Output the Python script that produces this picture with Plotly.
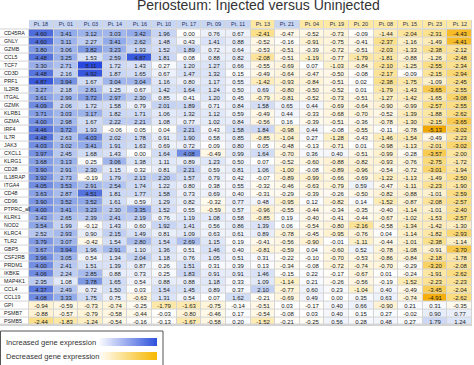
import plotly.graph_objects as go

patients = ["Pt. 18", "Pt. 01", "Pt. 03", "Pt. 14", "Pt. 16", "Pt. 10", "Pt. 17", "Pt. 09", "Pt. 11",
            "Pt. 13", "Pt. 21", "Pt. 04", "Pt. 19", "Pt. 20", "Pt. 08", "Pt. 15", "Pt. 23", "Pt. 12"]
header_group = [1, 1, 1, 1, 1, 1, 1, 1, 1, -1, 1, -1, -1, -1, -1, -1, -1, -1]

genes = ["CD45RA", "GNLY", "GZMB", "CCL5", "TCF7", "CD3D", "PRF1", "IL2RB", "ITGAL", "GZMK", "KLRB1",
         "GZMA", "IRF4", "IL7R", "JAK3", "CXCL1", "KLRG1", "CD28", "IL18RAP", "ITGA4", "CD48", "CD96",
         "PTPRC_all", "KLRK1", "NOD2", "KLRC4", "TLR2", "GBP5", "CSF2RB", "PRDM1", "IKBKE", "MAP4K1",
         "CCL4", "CCL19", "GPI", "PSMB7", "PSMB5"]

values = [
    [4.60, 3.41, 3.12, 3.03, 3.42, 1.96, 0.00, 0.76, 0.67, -2.41, -0.47, -0.52, -0.73, -0.09, -1.44, -2.04, -2.31, -4.43],
    [4.60, 3.11, 2.27, 3.41, 2.62, 1.48, 0.43, 1.41, 0.88, -0.52, -0.16, -0.91, -0.75, -0.41, -2.37, -1.16, -1.49, -4.41],
    [3.80, 3.06, 3.82, 3.23, 1.93, 1.52, 1.89, 0.72, 0.64, -0.53, -0.51, -0.39, -0.72, -0.51, -2.03, -1.33, -2.38, -2.12],
    [4.48, 3.25, 1.53, 2.59, 4.87, 1.81, 0.08, 0.88, 0.82, -2.08, -0.51, -1.19, -0.77, -1.79, -1.81, -0.88, -1.26, -2.48],
    [3.30, 2.71, 5.11, 1.72, 1.43, 0.27, 1.20, 1.27, 0.66, -0.55, -0.69, 0.07, -1.03, -0.84, -2.10, -1.25, -2.55, -2.34],
    [4.48, 2.16, 4.92, 1.87, 1.65, 0.67, 1.47, 1.32, 0.15, -0.49, -0.64, -0.47, -0.50, -0.08, -2.17, -0.09, -2.15, -2.94],
    [4.87, 3.94, 1.67, 3.04, 3.04, 1.16, 0.80, 1.17, 0.55, -1.42, -0.93, -0.84, -0.51, 0.02, -2.38, -1.75, -1.09, -2.45],
    [3.27, 2.18, 2.81, 1.25, 0.67, 1.42, 1.64, 1.24, 0.50, 0.69, -0.80, -0.50, -0.52, 0.01, -1.79, -1.43, -3.65, -2.55],
    [3.61, 2.99, 3.72, 2.97, 2.30, 0.85, 0.41, 1.20, 0.45, -0.79, -0.81, -0.52, -0.73, -0.51, -1.27, -1.42, -1.65, -3.08],
    [4.09, 2.06, 1.72, 1.58, 0.79, 2.01, 1.89, 0.71, 0.84, 1.58, 0.65, 0.44, -0.69, -0.64, -0.90, -0.99, -2.57, -2.55],
    [3.71, 3.03, 3.17, 1.82, 1.71, 1.06, 1.32, 1.12, 0.59, -0.49, 0.44, -0.33, -0.68, -0.70, -0.52, -1.39, -1.88, -2.62],
    [4.00, 2.98, 1.67, 2.22, 2.21, 1.08, 0.77, 1.02, 0.84, -0.56, 0.16, -0.39, -0.51, -0.36, -0.78, -1.30, -2.15, -3.65],
    [4.46, 3.72, 1.93, -0.06, 0.05, 0.04, 2.21, 0.43, 1.58, 1.84, -0.98, 0.44, -0.08, -0.55, -0.11, -0.78, -5.13, -3.02],
    [4.48, 2.63, 4.03, 2.02, 1.78, 0.91, 1.90, 0.58, 0.85, -0.85, -1.04, 0.27, -1.28, -0.43, -1.46, -1.54, -0.49, -2.23],
    [4.03, 3.02, 3.41, 1.91, 1.63, 0.69, 0.72, 0.09, 0.80, 0.05, -0.48, -0.13, -0.71, 0.01, -0.98, -1.13, -2.01, -3.02],
    [3.97, 2.45, 1.68, 1.43, 0.00, 1.64, 4.08, -0.49, 0.99, 1.64, -0.70, 0.36, 0.40, -0.51, -0.99, -0.28, -3.57, -2.00],
    [3.68, 3.13, 0.25, 3.06, 1.38, 1.11, 0.89, 1.23, 0.50, 0.07, -0.52, -0.60, -0.88, -0.82, -0.93, -0.76, -2.75, -1.72],
    [3.90, 2.91, 2.30, 1.15, 0.32, 0.81, 2.21, 0.59, 0.81, 1.06, -1.00, -0.08, -0.89, -0.96, -0.54, -0.72, -3.01, -1.94],
    [3.92, 2.73, -0.19, 1.79, 2.13, 2.20, 1.57, 0.79, 0.42, -0.07, -0.89, -0.99, -0.66, -0.69, -1.22, -1.13, -1.49, -2.50],
    [4.05, 3.53, 2.91, 2.54, 1.74, 1.22, 0.80, 0.38, 0.55, -0.32, -0.46, -0.63, -0.79, 0.59, -0.47, -1.11, -2.23, -1.90],
    [3.63, 2.87, 4.51, 1.81, 1.77, 1.58, 0.73, 0.69, 0.40, -0.31, -0.29, -0.39, -0.26, -0.50, -0.82, -0.88, -1.01, -2.59],
    [3.90, 3.52, 3.52, 1.61, 0.59, 1.29, 0.82, -0.32, 0.77, 0.48, -0.95, 0.12, -0.82, 0.14, -1.52, -0.87, -2.08, -2.57],
    [4.00, 3.41, 3.23, 2.30, 3.35, 1.52, 0.55, -0.59, 0.57, -0.96, -0.55, -0.44, -0.34, -0.35, -0.40, -1.14, -1.01, -2.40],
    [3.43, 2.65, 2.39, 2.41, 2.19, 0.76, 1.19, 1.08, 0.58, -0.85, 0.19, -0.40, -0.41, -0.44, -0.67, -1.02, -1.53, -2.57],
    [3.54, 1.99, -0.12, 1.43, 0.60, 1.92, 1.41, 0.56, 0.86, 1.39, 0.06, -0.54, -0.80, -2.16, -0.58, -1.34, -1.42, -1.30],
    [2.52, 2.93, 0.90, 2.15, 1.49, 0.81, 1.09, 0.63, 0.61, 0.89, -0.78, -0.45, -0.95, -0.76, 0.04, -1.14, -1.82, -2.93],
    [3.79, 3.07, -0.42, 1.54, 2.80, 1.54, 2.69, 1.15, 0.19, -0.41, -0.56, -0.90, -0.01, -1.11, -0.44, -1.01, -2.38, -1.14],
    [3.67, 3.94, 1.96, 2.91, 1.10, 1.36, 0.51, 1.46, 0.40, -0.81, -0.59, 0.04, -0.60, 0.52, -0.78, -1.08, -0.91, -3.70],
    [3.96, 3.05, 0.54, 1.34, 2.04, 1.18, 0.76, 1.05, 0.51, 0.31, -0.22, -0.10, -0.70, -0.53, -0.86, -0.84, -2.18, -1.78],
    [4.00, 2.41, 1.51, 1.39, 0.87, 0.26, 1.51, 0.31, 0.39, 0.13, -0.34, -0.08, -0.72, -0.74, -0.70, -0.29, -3.20, -2.08],
    [4.06, 2.24, 2.85, 0.88, 0.73, 0.25, 1.83, 0.91, 0.91, 1.46, -0.15, 0.22, -0.17, -0.67, 0.01, -0.24, -1.91, -2.62],
    [2.35, 1.08, 3.78, 1.65, 0.54, 0.88, 0.88, 1.18, 0.33, 1.09, -1.14, 0.21, -0.26, -0.56, -0.19, -1.52, -2.23, -2.23],
    [4.37, 2.49, 0.72, 1.50, 0.03, 1.54, 1.45, 0.89, 0.37, 2.10, -0.77, 0.60, 0.23, -1.04, 0.40, -0.49, -3.45, -2.04],
    [4.08, 3.33, 1.75, 0.75, -0.63, 1.31, 0.54, 0.07, 1.62, -0.21, -0.69, 0.49, 0.00, 0.35, 0.63, -0.74, -4.91, -2.62],
    [-0.94, -0.59, -0.73, -0.74, -0.25, -1.79, -1.63, -0.75, -0.14, -0.51, 0.03, -0.17, 0.40, 0.66, -0.90, 0.21, 0.31, -0.35],
    [-0.88, -0.57, -0.79, -0.58, -0.44, -0.03, -0.80, -0.46, 0.17, -0.54, -0.08, 0.03, 0.40, 0.15, 0.27, -0.02, 0.90, 0.77],
    [-2.44, -1.83, -1.24, -0.54, -0.16, -0.13, -1.67, -0.58, 0.20, -1.52, -0.21, -0.25, 0.56, 0.28, 0.48, 0.27, 1.79, 1.24],
]

title_text = "Periosteum: Injected versus Uninjected"
legend_up = "Increased gene expression"
legend_down = "Decreased gene expression"

W, H = 474, 365
ZMIN, ZMAX = -5.2, 5.2
stops = [(-5.2, "#f2a600"), (-4.5, "#f6ba22"), (-3.5, "#f9cd55"), (-2.5, "#fcdf86"),
         (-1.5, "#feecb6"), (-0.5, "#fff8e6"), (0, "#ffffff"), (0.5, "#f2f5fd"),
         (1.5, "#d6e0f7"), (2.5, "#b5c6f0"), (3.5, "#8fa8e9"), (4.2, "#6885e0"),
         (4.7, "#4766db"), (5.2, "#2242e0")]
cscale = [[(v - ZMIN) / (ZMAX - ZMIN), c] for v, c in stops]

def px_x(p):
    return p / W

def px_y(p):
    return 1 - p / H

top_data, bot_data = 28.5, 326.0
fig = go.Figure()

fig.add_trace(go.Heatmap(
    z=values, x=patients, y=genes, colorscale=cscale, zmin=ZMIN, zmax=ZMAX,
    showscale=False, xgap=1, ygap=1, texttemplate="%{z:.2f}",
    textfont=dict(size=6, color="#222222", family="Liberation Sans"),
    hoverinfo="skip", xaxis="x", yaxis="y"))

fig.add_trace(go.Heatmap(
    z=[header_group], x=patients, y=["hdr"], text=[patients], texttemplate="%{text}",
    colorscale=[[0, "#fde9a3"], [1, "#c9d6f2"]], zmin=-1, zmax=1, showscale=False,
    xgap=1, ygap=1, textfont=dict(size=5.5, color="#1f2f5c", family="Liberation Sans"),
    hoverinfo="skip", xaxis="x", yaxis="y2"))

fig.add_trace(go.Heatmap(
    z=[[0] for _ in genes], x=["lbl"], y=genes, colorscale=[[0, "#ffffff"], [1, "#ffffff"]],
    showscale=False, xgap=1, ygap=1, hoverinfo="skip", xaxis="x2", yaxis="y"))

grad = [list(range(40))]
fig.add_trace(go.Heatmap(z=grad, colorscale=[[0, "#ffffff"], [1, "#2f52dc"]], showscale=False,
                         hoverinfo="skip", xaxis="x3", yaxis="y3"))
fig.add_trace(go.Heatmap(z=grad, colorscale=[[0, "#ffffff"], [1, "#f6b800"]], showscale=False,
                         hoverinfo="skip", xaxis="x4", yaxis="y4"))

hidden = dict(showticklabels=False, showgrid=False, zeroline=False, ticks="", showline=False)
fig.update_layout(
    width=W, height=H, margin=dict(l=0, r=0, t=0, b=0),
    paper_bgcolor="white", plot_bgcolor="#d4d4d4",
    xaxis=dict(domain=[px_x(29), px_x(472)], anchor="y", **hidden),
    yaxis=dict(domain=[px_y(bot_data), px_y(top_data)], autorange="reversed", anchor="x", **hidden),
    yaxis2=dict(domain=[px_y(28.5), px_y(20)], anchor="x", **hidden),
    xaxis2=dict(domain=[0, px_x(29)], anchor="y", **hidden),
    xaxis3=dict(domain=[px_x(97), px_x(157)], anchor="y3", **hidden),
    yaxis3=dict(domain=[px_y(346), px_y(338)], anchor="x3", **hidden),
    xaxis4=dict(domain=[px_x(97), px_x(157)], anchor="y4", **hidden),
    yaxis4=dict(domain=[px_y(360), px_y(352)], anchor="x4", **hidden),
    showlegend=False,
)

anns = [dict(text=title_text, x=px_x(258), y=1.0, xref="paper", yref="paper",
             xanchor="center", yanchor="top", yshift=5, showarrow=False,
             font=dict(size=14, color="#333333", family="Liberation Sans"))]
for g in genes:
    anns.append(dict(text=g, x=px_x(1.5), y=g, xref="paper", yref="y", xanchor="left",
                     yanchor="middle", showarrow=False,
                     font=dict(size=5.3, color="#222222", family="Liberation Sans")))
anns.append(dict(text=legend_up, x=px_x(4), y=px_y(342), xref="paper", yref="paper",
                 xanchor="left", yanchor="middle", showarrow=False,
                 font=dict(size=7.5, color="#333333", family="Liberation Sans")))
anns.append(dict(text=legend_down, x=px_x(4), y=px_y(356), xref="paper", yref="paper",
                 xanchor="left", yanchor="middle", showarrow=False,
                 font=dict(size=7.5, color="#333333", family="Liberation Sans")))
fig.update_layout(annotations=anns)

fig.add_shape(type="rect", xref="paper", yref="paper", x0=px_x(0.5), x1=px_x(163),
              y0=-0.02, y1=px_y(331), line=dict(color="#555555", width=1))

fig.write_html("out.html", config={"displayModeBar": False, "staticPlot": True},
               post_script="document.body.style.margin='0';document.body.style.overflow='hidden';")
